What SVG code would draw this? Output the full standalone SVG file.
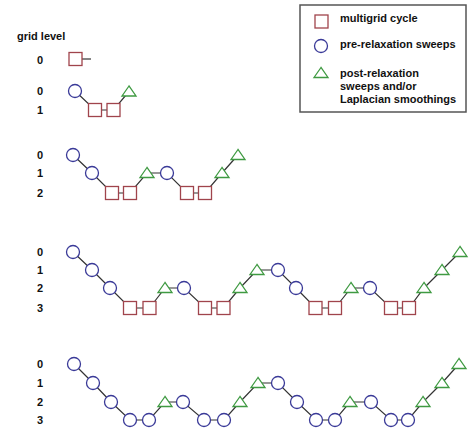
<svg xmlns="http://www.w3.org/2000/svg" xmlns:xlink="http://www.w3.org/1999/xlink" width="474" height="434" viewBox="0 0 474 434">
<style>
text{font-family:"Liberation Sans",Arial,sans-serif;font-weight:bold;font-size:11px;fill:#111}
.lv{text-anchor:middle}
.sq{fill:#fff;stroke:#a0444c;stroke-width:1.3}
.ci{fill:#fff;stroke:#3a3a98;stroke-width:1.3}
.tr{fill:#fff;stroke:#3f9a42;stroke-width:1.3}
.cn{fill:none;stroke:#333;stroke-width:1.2}
</style>
<defs>
<rect id="sq" class="sq" x="-6.5" y="-6.5" width="13" height="13"/>
<circle id="ci" class="ci" r="6.5"/>
<polygon id="tr" class="tr" points="0,-5.5 -7,4.5 7,4.5"/>
</defs>
<rect width="474" height="434" fill="#fff"/>
<g id="labels">
<text x="17" y="40">grid level</text>
<text class="lv" x="40" y="64">0</text>
<text class="lv" x="40" y="95">0</text>
<text class="lv" x="40" y="114">1</text>
<text class="lv" x="40" y="159">0</text>
<text class="lv" x="40" y="177">1</text>
<text class="lv" x="40" y="197">2</text>
<text class="lv" x="40" y="256">0</text>
<text class="lv" x="40" y="274">1</text>
<text class="lv" x="40" y="292">2</text>
<text class="lv" x="40" y="312">3</text>
<text class="lv" x="40" y="368">0</text>
<text class="lv" x="40" y="387">1</text>
<text class="lv" x="40" y="406">2</text>
<text class="lv" x="40" y="424">3</text>
</g>
<g id="legend">
<rect x="300" y="5" width="166" height="107" fill="#fff" stroke="#555" stroke-width="1.5"/>
<use href="#sq" x="321.5" y="21.5"/>
<text x="340" y="22">multigrid cycle</text>
<use href="#ci" x="321" y="46"/>
<text x="340" y="48">pre-relaxation sweeps</text>
<use href="#tr" x="321" y="73"/>
<text x="340" y="77">post-relaxation</text>
<text x="340" y="90">sweeps and/or</text>
<text x="340" y="103">Laplacian smoothings</text>
</g>
<g id="connectors">
<polyline class="cn" points="75,59 91,59"/>
<polyline class="cn" points="75,91 95,110 113.5,110 129,91.5"/>
<polyline class="cn" points="73,155 92,173 112,193 130,193 147,173 167,173 187,193 205,193 222,173 238,155"/>
<polyline class="cn" points="73,252 92,270 110,288 130,308 149.5,308 165,288 184,288 205,308 223.5,308 240,288 257,270 278,270 296,288 315.5,308 335,308 351,288 370,288 391,308 409,308 424,288 442,270 460,252"/>
<polyline class="cn" points="74,364 93,383 111,402 130,420 149,420 165,402 183,402 204,420 224,420 240,402 258,383 278,383 297,402 316,420 335,420 350,402 371,402 391,420 408,420 423,402 442,383 459,364"/>
</g>
<g id="cycle1">
<g id="c1n1"><use href="#sq" x="75.5" y="59"/></g>
</g>
<g id="cycle2">
<g id="c2n1"><use href="#ci" x="75" y="91"/></g>
<g id="c2n2"><use href="#sq" x="95" y="110"/></g>
<g id="c2n3"><use href="#sq" x="113.5" y="110"/></g>
<g id="c2n4"><use href="#tr" x="129" y="91.5"/></g>
</g>
<g id="cycle3">
<g id="c3n1"><use href="#ci" x="73" y="155"/></g>
<g id="c3n2"><use href="#ci" x="92" y="173"/></g>
<g id="c3n3"><use href="#sq" x="112" y="193"/></g>
<g id="c3n4"><use href="#sq" x="130" y="193"/></g>
<g id="c3n5"><use href="#tr" x="147" y="173"/></g>
<g id="c3n6"><use href="#ci" x="167" y="173"/></g>
<g id="c3n7"><use href="#sq" x="187" y="193"/></g>
<g id="c3n8"><use href="#sq" x="205" y="193"/></g>
<g id="c3n9"><use href="#tr" x="222" y="173"/></g>
<g id="c3n10"><use href="#tr" x="238" y="155"/></g>
</g>
<g id="cycle4">
<g id="c4n1"><use href="#ci" x="73" y="252"/></g>
<g id="c4n2"><use href="#ci" x="92" y="270"/></g>
<g id="c4n3"><use href="#ci" x="110" y="288"/></g>
<g id="c4n4"><use href="#sq" x="130" y="308"/></g>
<g id="c4n5"><use href="#sq" x="149.5" y="308"/></g>
<g id="c4n6"><use href="#tr" x="165" y="288"/></g>
<g id="c4n7"><use href="#ci" x="184" y="288"/></g>
<g id="c4n8"><use href="#sq" x="205" y="308"/></g>
<g id="c4n9"><use href="#sq" x="223.5" y="308"/></g>
<g id="c4n10"><use href="#tr" x="240" y="288"/></g>
<g id="c4n11"><use href="#tr" x="257" y="270"/></g>
<g id="c4n12"><use href="#ci" x="278" y="270"/></g>
<g id="c4n13"><use href="#ci" x="296" y="288"/></g>
<g id="c4n14"><use href="#sq" x="315.5" y="308"/></g>
<g id="c4n15"><use href="#sq" x="335" y="308"/></g>
<g id="c4n16"><use href="#tr" x="351" y="288"/></g>
<g id="c4n17"><use href="#ci" x="370" y="288"/></g>
<g id="c4n18"><use href="#sq" x="391" y="308"/></g>
<g id="c4n19"><use href="#sq" x="409" y="308"/></g>
<g id="c4n20"><use href="#tr" x="424" y="288"/></g>
<g id="c4n21"><use href="#tr" x="442" y="270"/></g>
<g id="c4n22"><use href="#tr" x="460" y="252"/></g>
</g>
<g id="cycle5">
<g id="c5n1"><use href="#ci" x="74" y="364"/></g>
<g id="c5n2"><use href="#ci" x="93" y="383"/></g>
<g id="c5n3"><use href="#ci" x="111" y="402"/></g>
<g id="c5n4"><use href="#ci" x="130" y="420"/></g>
<g id="c5n5"><use href="#ci" x="149" y="420"/></g>
<g id="c5n6"><use href="#tr" x="165" y="402"/></g>
<g id="c5n7"><use href="#ci" x="183" y="402"/></g>
<g id="c5n8"><use href="#ci" x="204" y="420"/></g>
<g id="c5n9"><use href="#ci" x="224" y="420"/></g>
<g id="c5n10"><use href="#tr" x="240" y="402"/></g>
<g id="c5n11"><use href="#tr" x="258" y="383"/></g>
<g id="c5n12"><use href="#ci" x="278" y="383"/></g>
<g id="c5n13"><use href="#ci" x="297" y="402"/></g>
<g id="c5n14"><use href="#ci" x="316" y="420"/></g>
<g id="c5n15"><use href="#ci" x="335" y="420"/></g>
<g id="c5n16"><use href="#tr" x="350" y="402"/></g>
<g id="c5n17"><use href="#ci" x="371" y="402"/></g>
<g id="c5n18"><use href="#ci" x="391" y="420"/></g>
<g id="c5n19"><use href="#ci" x="408" y="420"/></g>
<g id="c5n20"><use href="#tr" x="423" y="402"/></g>
<g id="c5n21"><use href="#tr" x="442" y="383"/></g>
<g id="c5n22"><use href="#tr" x="459" y="364"/></g>
</g>
</svg>
